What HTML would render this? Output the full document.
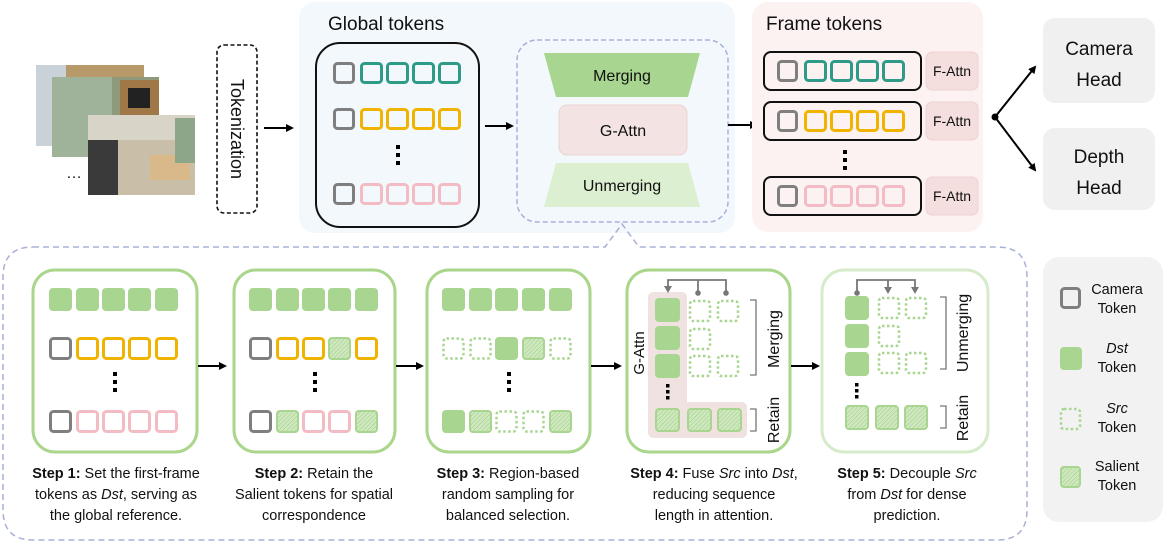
<!DOCTYPE html>
<html><head><meta charset="utf-8"><style>
html,body{margin:0;padding:0;background:#fff}
svg{display:block}
text{font-family:"Liberation Sans",Arial,sans-serif;fill:#111}
.g{fill:none;stroke:#7f7f7f;stroke-width:3}
.t{fill:none;stroke:#2e9a88;stroke-width:3}
.y{fill:none;stroke:#f0b400;stroke-width:3}
.p{fill:none;stroke:#f3bcc5;stroke-width:3}
.d{fill:#a8d58f}
.s{fill:none;stroke:#a8d58f;stroke-width:2.5;stroke-dasharray:2.5 2.5}
.h{fill:url(#hatch);stroke:#a8d58f;stroke-width:2}
.gb{fill:#fff;stroke:#a9d68b;stroke-width:3}
</style></head><body>
<svg width="1165" height="547" viewBox="0 0 1165 547" xmlns="http://www.w3.org/2000/svg">
<defs>
<pattern id="hatch" width="3" height="3" patternUnits="userSpaceOnUse" patternTransform="rotate(45)">
<rect width="3" height="3" fill="#cfe8c0"/><line x1="0" y1="0" x2="0" y2="3" stroke="#9ccd80" stroke-width="1"/>
</pattern>
<marker id="ar" markerWidth="8" markerHeight="8" refX="6" refY="4" orient="auto" markerUnits="userSpaceOnUse"><path d="M0,0 L8,4 L0,8 z" fill="#000"/></marker>
<marker id="ag" markerWidth="7" markerHeight="7" refX="5" refY="3.5" orient="auto" markerUnits="userSpaceOnUse"><path d="M0,0 L7,3.5 L0,7 z" fill="#777"/></marker>
</defs>

<!-- images -->
<rect x="36" y="65" width="108" height="81" fill="#b89a6a"/>
<rect x="36" y="65" width="30" height="81" fill="#c8d2d8"/>
<rect x="52" y="77" width="107" height="80" fill="#8f9a7a"/>
<rect x="52" y="77" width="60" height="80" fill="#9fb39a"/>
<rect x="120" y="80" width="39" height="40" fill="#a07848"/>
<rect x="128" y="88" width="22" height="20" fill="#222"/>
<rect x="88" y="115" width="107" height="80" fill="#c9bfa8"/>
<rect x="88" y="115" width="107" height="25" fill="#d8d4c8"/>
<rect x="88" y="140" width="30" height="55" fill="#3a3a3a"/>
<rect x="150" y="155" width="40" height="25" fill="#d9b98a"/>
<rect x="175" y="118" width="20" height="45" fill="#8da68a"/>
<text x="66" y="178" font-size="16">…</text>

<!-- Tokenization -->
<rect x="217" y="45" width="40" height="168" rx="7" fill="none" stroke="#111" stroke-width="1.6" stroke-dasharray="4 2.5"/>
<text x="0" y="0" font-size="18" text-anchor="middle" transform="translate(231,129) rotate(90)">Tokenization</text>
<line x1="264" y1="128" x2="292" y2="128" stroke="#000" stroke-width="2" marker-end="url(#ar)"/>

<!-- Global panel -->
<rect x="299" y="2" width="436" height="231" rx="16" fill="#f2f8fc"/>
<text x="328" y="30" font-size="19">Global tokens</text>
<rect x="316" y="43" width="163" height="184" rx="24" fill="none" stroke="#111" stroke-width="2"/>
<rect class="g" x="334.5" y="63.5" width="19" height="19" rx="3"/>
<rect class="t" x="361.5" y="63.5" width="20" height="19" rx="3"/><rect class="t" x="387.5" y="63.5" width="20" height="19" rx="3"/><rect class="t" x="413.5" y="63.5" width="20" height="19" rx="3"/><rect class="t" x="439.5" y="63.5" width="20" height="19" rx="3"/>
<rect class="g" x="334.5" y="109.5" width="19" height="19" rx="3"/>
<rect class="y" x="361.5" y="109.5" width="20" height="19" rx="3"/><rect class="y" x="387.5" y="109.5" width="20" height="19" rx="3"/><rect class="y" x="413.5" y="109.5" width="20" height="19" rx="3"/><rect class="y" x="439.5" y="109.5" width="20" height="19" rx="3"/>
<rect x="396" y="145" width="4" height="4"/><rect x="396" y="153" width="4" height="4"/><rect x="396" y="161" width="4" height="4"/>
<rect class="g" x="334.5" y="184.5" width="19" height="19" rx="3"/>
<rect class="p" x="361.5" y="184.5" width="20" height="19" rx="3"/><rect class="p" x="387.5" y="184.5" width="20" height="19" rx="3"/><rect class="p" x="413.5" y="184.5" width="20" height="19" rx="3"/><rect class="p" x="439.5" y="184.5" width="20" height="19" rx="3"/>
<line x1="485" y1="126" x2="512" y2="126" stroke="#000" stroke-width="2" marker-end="url(#ar)"/>

<rect x="517" y="40" width="211" height="182" rx="20" fill="none" stroke="#a9b0d8" stroke-width="1.5" stroke-dasharray="5 3"/>
<polygon points="544,53 700,53 688,97 556,97" fill="#a8d58f"/>
<text x="622" y="81" font-size="16" text-anchor="middle">Merging</text>
<rect x="559" y="105" width="128" height="50" rx="8" fill="#f3e3e3" stroke="#ecd3d3"/>
<text x="623" y="136" font-size="16" text-anchor="middle">G-Attn</text>
<polygon points="556,163 688,163 700,207 544,207" fill="#dcefd1"/>
<text x="622" y="191" font-size="16" text-anchor="middle">Unmerging</text>
<line x1="728" y1="125" x2="756" y2="125" stroke="#000" stroke-width="2" marker-end="url(#ar)"/>

<!-- Frame panel -->
<rect x="752" y="2" width="231" height="230" rx="16" fill="#fcf2f2"/>
<text x="766" y="30" font-size="19">Frame tokens</text>
<g>
<rect x="764" y="52" width="157" height="38" rx="7" fill="none" stroke="#111" stroke-width="2"/>
<rect class="g" x="778.5" y="61.5" width="18" height="19" rx="3"/>
<rect class="t" x="805.5" y="61.5" width="20" height="19" rx="3"/><rect class="t" x="831.5" y="61.5" width="20" height="19" rx="3"/><rect class="t" x="857.5" y="61.5" width="20" height="19" rx="3"/><rect class="t" x="883.5" y="61.5" width="20" height="19" rx="3"/>
<rect x="926" y="52" width="52" height="38" rx="6" fill="#f4dede" stroke="#efd2d2"/>
<text x="952" y="76" font-size="14" text-anchor="middle">F-Attn</text>
</g>
<g>
<rect x="764" y="102" width="157" height="38" rx="7" fill="none" stroke="#111" stroke-width="2"/>
<rect class="g" x="778.5" y="111.5" width="18" height="19" rx="3"/>
<rect class="y" x="805.5" y="111.5" width="20" height="19" rx="3"/><rect class="y" x="831.5" y="111.5" width="20" height="19" rx="3"/><rect class="y" x="857.5" y="111.5" width="20" height="19" rx="3"/><rect class="y" x="883.5" y="111.5" width="20" height="19" rx="3"/>
<rect x="926" y="102" width="52" height="38" rx="6" fill="#f4dede" stroke="#efd2d2"/>
<text x="952" y="126" font-size="14" text-anchor="middle">F-Attn</text>
</g>
<rect x="843" y="150" width="4" height="4"/><rect x="843" y="158" width="4" height="4"/><rect x="843" y="166" width="4" height="4"/>
<g>
<rect x="764" y="177" width="157" height="38" rx="7" fill="none" stroke="#111" stroke-width="2"/>
<rect class="g" x="778.5" y="186.5" width="18" height="19" rx="3"/>
<rect class="p" x="805.5" y="186.5" width="20" height="19" rx="3"/><rect class="p" x="831.5" y="186.5" width="20" height="19" rx="3"/><rect class="p" x="857.5" y="186.5" width="20" height="19" rx="3"/><rect class="p" x="883.5" y="186.5" width="20" height="19" rx="3"/>
<rect x="926" y="177" width="52" height="38" rx="6" fill="#f4dede" stroke="#efd2d2"/>
<text x="952" y="201" font-size="14" text-anchor="middle">F-Attn</text>
</g>

<circle cx="995" cy="117" r="3.5" fill="#000"/>
<line x1="995" y1="117" x2="1035" y2="67" stroke="#000" stroke-width="2" marker-end="url(#ar)"/>
<line x1="995" y1="117" x2="1035" y2="170" stroke="#000" stroke-width="2" marker-end="url(#ar)"/>
<rect x="1043" y="18" width="112" height="85" rx="12" fill="#f0f0f0"/>
<text x="1099" y="55" font-size="19" text-anchor="middle">Camera</text>
<text x="1099" y="86" font-size="19" text-anchor="middle">Head</text>
<rect x="1043" y="128" width="112" height="82" rx="12" fill="#f0f0f0"/>
<text x="1099" y="163" font-size="19" text-anchor="middle">Depth</text>
<text x="1099" y="194" font-size="19" text-anchor="middle">Head</text>

<!-- big dashed box -->
<path d="M33,247 L605,247 L622,224 L639,247 L997,247 Q1027,247 1027,277 L1027,510 Q1027,540 997,540 L33,540 Q3,540 3,510 L3,277 Q3,247 33,247 Z" fill="none" stroke="#a9b0d8" stroke-width="1.5" stroke-dasharray="6 4"/>

<!-- Box1 -->
<rect class="gb" x="33" y="270" width="164" height="182" rx="22"/>
<rect class="d" x="49" y="288" width="23" height="23" rx="4"/><rect class="d" x="76" y="288" width="23" height="23" rx="4"/><rect class="d" x="102" y="288" width="23" height="23" rx="4"/><rect class="d" x="128" y="288" width="23" height="23" rx="4"/><rect class="d" x="155" y="288" width="23" height="23" rx="4"/>
<rect class="g" x="50.5" y="338.5" width="20" height="20" rx="3"/>
<rect class="y" x="77.5" y="338.5" width="20" height="20" rx="3"/><rect class="y" x="103.5" y="338.5" width="20" height="20" rx="3"/><rect class="y" x="129.5" y="338.5" width="20" height="20" rx="3"/><rect class="y" x="156.5" y="338.5" width="20" height="20" rx="3"/>
<rect x="113" y="372" width="4" height="4"/><rect x="113" y="380" width="4" height="4"/><rect x="113" y="388" width="4" height="4"/>
<rect class="g" x="50.5" y="411.5" width="20" height="20" rx="3"/>
<rect class="p" x="77.5" y="411.5" width="20" height="20" rx="3"/><rect class="p" x="103.5" y="411.5" width="20" height="20" rx="3"/><rect class="p" x="129.5" y="411.5" width="20" height="20" rx="3"/><rect class="p" x="156.5" y="411.5" width="20" height="20" rx="3"/>
<line x1="198" y1="366" x2="225" y2="366" stroke="#000" stroke-width="2" marker-end="url(#ar)"/>

<!-- Box2 -->
<rect class="gb" x="234" y="270" width="161" height="182" rx="22"/>
<rect class="d" x="249" y="288" width="23" height="23" rx="4"/><rect class="d" x="276" y="288" width="23" height="23" rx="4"/><rect class="d" x="302" y="288" width="23" height="23" rx="4"/><rect class="d" x="328" y="288" width="23" height="23" rx="4"/><rect class="d" x="355" y="288" width="23" height="23" rx="4"/>
<rect class="g" x="250.5" y="338.5" width="20" height="20" rx="3"/>
<rect class="y" x="277.5" y="338.5" width="20" height="20" rx="3"/><rect class="y" x="303.5" y="338.5" width="20" height="20" rx="3"/><rect class="h" x="329" y="338" width="21" height="21" rx="3"/><rect class="y" x="356.5" y="338.5" width="20" height="20" rx="3"/>
<rect x="313" y="372" width="4" height="4"/><rect x="313" y="380" width="4" height="4"/><rect x="313" y="388" width="4" height="4"/>
<rect class="g" x="250.5" y="411.5" width="20" height="20" rx="3"/>
<rect class="h" x="277" y="411" width="21" height="21" rx="3"/><rect class="p" x="303.5" y="411.5" width="20" height="20" rx="3"/><rect class="p" x="329.5" y="411.5" width="20" height="20" rx="3"/><rect class="h" x="356" y="411" width="21" height="21" rx="3"/>
<line x1="396" y1="366" x2="422" y2="366" stroke="#000" stroke-width="2" marker-end="url(#ar)"/>

<!-- Box3 -->
<rect class="gb" x="427" y="270" width="163" height="182" rx="22"/>
<rect class="d" x="442" y="288" width="23" height="23" rx="4"/><rect class="d" x="469" y="288" width="23" height="23" rx="4"/><rect class="d" x="495" y="288" width="23" height="23" rx="4"/><rect class="d" x="522" y="288" width="23" height="23" rx="4"/><rect class="d" x="549" y="288" width="23" height="23" rx="4"/>
<rect class="s" x="443.5" y="338.5" width="20" height="20" rx="3"/><rect class="s" x="470.5" y="338.5" width="20" height="20" rx="3"/><rect class="d" x="495" y="337" width="23" height="23" rx="4"/><rect class="h" x="523" y="338" width="21" height="21" rx="3"/><rect class="s" x="550.5" y="338.5" width="20" height="20" rx="3"/>
<rect x="507" y="372" width="4" height="4"/><rect x="507" y="380" width="4" height="4"/><rect x="507" y="388" width="4" height="4"/>
<rect class="d" x="442" y="410" width="23" height="23" rx="4"/><rect class="h" x="470" y="411" width="21" height="21" rx="3"/><rect class="s" x="496.5" y="411.5" width="20" height="20" rx="3"/><rect class="s" x="523.5" y="411.5" width="20" height="20" rx="3"/><rect class="h" x="550" y="411" width="21" height="21" rx="3"/>
<line x1="591" y1="366" x2="620" y2="366" stroke="#000" stroke-width="2" marker-end="url(#ar)"/>

<!-- Box4 -->
<rect class="gb" x="627" y="270" width="163" height="182" rx="22"/>
<path d="M654,292 L681,292 Q687,292 687,298 L687,402 L741,402 Q747,402 747,408 L747,432 Q747,438 741,438 L654,438 Q648,438 648,432 L648,298 Q648,292 654,292 Z" fill="#f1e2e2"/>
<rect class="d" x="655" y="298" width="25" height="24" rx="4"/><rect class="d" x="655" y="326" width="25" height="24" rx="4"/><rect class="d" x="655" y="354" width="25" height="24" rx="4"/>
<rect x="666" y="384" width="3.5" height="3.5"/><rect x="666" y="390" width="3.5" height="3.5"/><rect x="666" y="396" width="3.5" height="3.5"/>
<rect class="s" x="690" y="301" width="20" height="20" rx="3"/><rect class="s" x="718" y="301" width="20" height="20" rx="3"/>
<rect class="s" x="690" y="329" width="20" height="20" rx="3"/>
<rect class="s" x="690" y="356" width="20" height="20" rx="3"/><rect class="s" x="718" y="356" width="20" height="20" rx="3"/>
<rect class="h" x="656" y="409" width="23" height="22" rx="3"/><rect class="h" x="688" y="409" width="23" height="22" rx="3"/><rect class="h" x="718" y="409" width="23" height="22" rx="3"/>
<path d="M668,290 L668,280 L726,280 L726,292 M698,280 L698,292" fill="none" stroke="#777" stroke-width="1.8"/>
<path d="M664,286 L672,286 L668,293 z" fill="#777"/>
<circle cx="698" cy="293" r="2.8" fill="#777"/><circle cx="726" cy="293" r="2.8" fill="#777"/>
<path d="M750,300 L756,300 L756,375 L750,375" fill="none" stroke="#777" stroke-width="1.3"/>
<path d="M750,409 L756,409 L756,431 L750,431" fill="none" stroke="#777" stroke-width="1.3"/>
<text font-size="16" text-anchor="middle" transform="translate(779,339) rotate(-90)">Merging</text>
<text font-size="16" text-anchor="middle" transform="translate(779,420) rotate(-90)">Retain</text>
<text font-size="15" text-anchor="middle" transform="translate(644,353) rotate(-90)">G-Attn</text>
<line x1="791" y1="366" x2="818" y2="366" stroke="#000" stroke-width="2" marker-end="url(#ar)"/>

<!-- Box5 -->
<rect x="822" y="270" width="166" height="182" rx="22" fill="#fff" stroke="#d6ebc9" stroke-width="3"/>
<rect class="d" x="845" y="296" width="24" height="24" rx="4"/><rect class="d" x="845" y="324" width="24" height="24" rx="4"/><rect class="d" x="845" y="352" width="24" height="24" rx="4"/>
<rect x="855" y="383" width="3.5" height="3.5"/><rect x="855" y="389" width="3.5" height="3.5"/><rect x="855" y="395" width="3.5" height="3.5"/>
<rect class="s" x="879" y="298" width="20" height="20" rx="3"/><rect class="s" x="906" y="298" width="20" height="20" rx="3"/>
<rect class="s" x="879" y="326" width="20" height="20" rx="3"/>
<rect class="s" x="879" y="353" width="20" height="20" rx="3"/><rect class="s" x="906" y="353" width="20" height="20" rx="3"/>
<rect class="h" x="846" y="406" width="22" height="23" rx="3"/><rect class="h" x="876" y="406" width="22" height="23" rx="3"/><rect class="h" x="905" y="406" width="22" height="23" rx="3"/>
<path d="M857,292 L857,280 L915,280 L915,290 M888,280 L888,290" fill="none" stroke="#777" stroke-width="1.8"/>
<circle cx="857" cy="293" r="2.8" fill="#777"/>
<path d="M884,287 L892,287 L888,294 z" fill="#777"/><path d="M911,287 L919,287 L915,294 z" fill="#777"/>
<path d="M940,297 L946,297 L946,369 L940,369" fill="none" stroke="#777" stroke-width="1.3"/>
<path d="M940,406 L946,406 L946,428 L940,428" fill="none" stroke="#777" stroke-width="1.3"/>
<text font-size="16" text-anchor="middle" transform="translate(968,333) rotate(-90)">Unmerging</text>
<text font-size="16" text-anchor="middle" transform="translate(968,418) rotate(-90)">Retain</text>

<!-- Step texts -->
<g font-size="14.5" text-anchor="middle">
<text x="116" y="478"><tspan font-weight="bold">Step 1:</tspan> Set the first-frame</text>
<text x="116" y="499">tokens as <tspan font-style="italic">Dst</tspan>, serving as</text>
<text x="116" y="520">the global reference.</text>
<text x="314" y="478"><tspan font-weight="bold">Step 2:</tspan> Retain the</text>
<text x="314" y="499">Salient tokens for spatial</text>
<text x="314" y="520">correspondence</text>
<text x="508" y="478"><tspan font-weight="bold">Step 3:</tspan> Region-based</text>
<text x="508" y="499">random sampling for</text>
<text x="508" y="520">balanced selection.</text>
<text x="714" y="478"><tspan font-weight="bold">Step 4:</tspan> Fuse <tspan font-style="italic">Src</tspan> into <tspan font-style="italic">Dst</tspan>,</text>
<text x="714" y="499">reducing sequence</text>
<text x="714" y="520">length in attention.</text>
<text x="907" y="478"><tspan font-weight="bold">Step 5:</tspan> Decouple <tspan font-style="italic">Src</tspan></text>
<text x="907" y="499">from <tspan font-style="italic">Dst</tspan> for dense</text>
<text x="907" y="520">prediction.</text>
</g>

<!-- Legend -->
<rect x="1043" y="257" width="120" height="265" rx="16" fill="#f2f2f2"/>
<rect class="g" x="1061.5" y="288.5" width="18" height="19" rx="3"/>
<rect class="d" x="1060" y="347" width="22" height="23" rx="4"/>
<rect class="s" x="1061" y="409" width="19" height="20" rx="3"/>
<rect class="h" x="1061" y="467" width="19" height="20" rx="3"/>
<g font-size="14.5" text-anchor="middle">
<text x="1117" y="294">Camera</text><text x="1117" y="313">Token</text>
<text x="1117" y="353" font-style="italic">Dst</text><text x="1117" y="372">Token</text>
<text x="1117" y="413" font-style="italic">Src</text><text x="1117" y="432">Token</text>
<text x="1117" y="471">Salient</text><text x="1117" y="490">Token</text>
</g>
</svg>
</body></html>
